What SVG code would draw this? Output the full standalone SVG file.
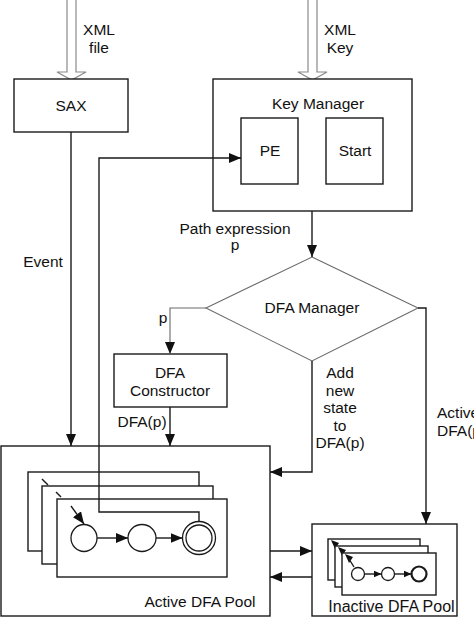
<svg xmlns="http://www.w3.org/2000/svg" width="474" height="621" viewBox="0 0 474 621">
<defs>
<style>
text{font-family:"Liberation Sans",Arial,sans-serif;font-size:15.5px;fill:#111;text-anchor:middle}
.box{fill:#fff;stroke:#1a1a1a;stroke-width:1.4}
.ln{fill:none;stroke:#1a1a1a;stroke-width:1.4}
.gl{fill:none;stroke:#6a6a6a;stroke-width:1.1}
.hollow{fill:#fff;stroke:#8a8a8a;stroke-width:1.2}
.st{fill:#fff;stroke:#1a1a1a;stroke-width:1.3}
</style>
<marker id="ah" markerUnits="userSpaceOnUse" markerWidth="12" markerHeight="10" refX="12" refY="5" orient="auto">
<path d="M0,0 L12,5 L0,10 z" fill="#111"/>
</marker>
<marker id="ahs" markerUnits="userSpaceOnUse" markerWidth="8" markerHeight="7" refX="8" refY="3.5" orient="auto">
<path d="M0,0 L8,3.5 L0,7 z" fill="#111"/>
</marker>
</defs>
<rect width="474" height="621" fill="#fff"/>

<g id="xml-file-input">
<polygon class="hollow" points="67,-2 67,72 57,72 71.5,80 86,72 76,72 76,-2"/>
<text x="99" y="35">XML</text>
<text x="99" y="53">file</text>
</g>
<g id="xml-key-input">
<polygon class="hollow" points="308,-2 308,72 298,72 312.5,80 327,72 317,72 317,-2"/>
<text x="340" y="35">XML</text>
<text x="340" y="53">Key</text>
</g>

<g id="sax">
<rect class="box" x="14" y="79" width="114" height="53"/>
<text x="71" y="111">SAX</text>
</g>

<g id="key-manager">
<rect class="box" x="213" y="79" width="199" height="132"/>
<text x="318" y="109">Key Manager</text>
</g>
<g id="pe">
<rect class="box" x="241" y="118" width="57" height="66"/>
<text x="270" y="156">PE</text>
</g>
<g id="start">
<rect class="box" x="326" y="118" width="57" height="66"/>
<text x="355" y="156">Start</text>
</g>

<g id="dfa-manager">
<polygon points="312,257 418,308 312,361 206,308" fill="#fff" stroke="#6a6a6a" stroke-width="1.1"/>
<text x="312" y="313">DFA Manager</text>
</g>

<g id="dfa-constructor">
<rect class="box" x="114" y="354" width="113" height="53"/>
<text x="170" y="378">DFA</text>
<text x="170" y="396">Constructor</text>
</g>

<g id="active-dfa-pool">
<rect class="box" x="1" y="446" width="269" height="170"/>
<rect class="box" x="28" y="472" width="171" height="79"/>
<line class="ln" x1="42" y1="479" x2="48" y2="485"/>
<rect class="box" x="42" y="486" width="171" height="78"/>
<line class="ln" x1="56" y1="492" x2="61" y2="497"/>
<rect class="box" x="57" y="499" width="170" height="78"/>
<line class="ln" x1="71" y1="506" x2="84" y2="524" marker-end="url(#ah)"/>
<ellipse class="st" cx="84" cy="538" rx="13" ry="13.5"/>
<ellipse class="st" cx="142" cy="538" rx="14" ry="13.5"/>
<circle class="st" cx="199" cy="538" r="16.5"/>
<circle class="st" cx="199" cy="538" r="13"/>
<line class="ln" x1="97" y1="538" x2="128" y2="538" marker-end="url(#ah)"/>
<line class="ln" x1="156" y1="538" x2="182.5" y2="538" marker-end="url(#ah)"/>
<text x="200" y="607">Active DFA Pool</text>
</g>

<g id="inactive-dfa-pool">
<rect class="box" x="312" y="524" width="145" height="92"/>
<rect class="box" x="328" y="539" width="92" height="41"/>
<polygon points="331,540 339,543 335,549" fill="#111"/>
<rect class="box" x="335" y="546" width="93" height="41"/>
<polygon points="338,547 346,550 342,556" fill="#111"/>
<rect class="box" x="342" y="553" width="94" height="42"/>
<polygon points="345,554 353,557 349,563" fill="#111"/>
<line class="ln" x1="349" y1="559" x2="354" y2="567" stroke-width="1.1"/>
<circle class="st" cx="358" cy="574" r="6.5" stroke-width="1.1"/>
<circle class="st" cx="388" cy="574" r="6.5" stroke-width="1.1"/>
<circle cx="419" cy="574" r="7.5" fill="#fff" stroke="#1a1a1a" stroke-width="2.2"/>
<line class="ln" x1="364.5" y1="574" x2="381.5" y2="574" marker-end="url(#ahs)"/>
<line class="ln" x1="394.5" y1="574" x2="411.5" y2="574" marker-end="url(#ahs)"/>
<text x="391.5" y="612" style="font-size:16px">Inactive DFA Pool</text>
</g>

<g id="connectors">
<line class="ln" x1="71" y1="132" x2="71" y2="446" marker-end="url(#ah)"/>
<line class="ln" x1="312" y1="211" x2="312" y2="257" marker-end="url(#ah)"/>
<path class="gl" d="M206,308 H170 V354" marker-end="url(#ah)"/>
<line class="ln" x1="170" y1="407" x2="170" y2="446" marker-end="url(#ah)"/>
<path class="ln" d="M312,361 V472 H270" marker-end="url(#ah)"/>
<path class="ln" d="M418,308 H426 V524" marker-end="url(#ah)"/>
<line class="ln" x1="270" y1="551" x2="312" y2="551" marker-end="url(#ah)"/>
<line class="ln" x1="312" y1="577" x2="270" y2="577" marker-end="url(#ah)"/>
<path class="ln" d="M199,521.5 V512 H99 V158 H241" marker-end="url(#ah)"/>
<text x="43" y="267">Event</text>
<text x="235" y="234">Path expression</text>
<text x="235" y="250">p</text>
<text x="163" y="323">p</text>
<text x="142" y="427">DFA(p)</text>
<text x="340" y="378">Add</text>
<text x="340" y="396">new</text>
<text x="340" y="413">state</text>
<text x="340" y="431">to</text>
<text x="340" y="448">DFA(p)</text>
<text x="437" y="418" style="text-anchor:start">Active</text>
<text x="437" y="436" style="text-anchor:start">DFA(p)</text>
</g>
</svg>
